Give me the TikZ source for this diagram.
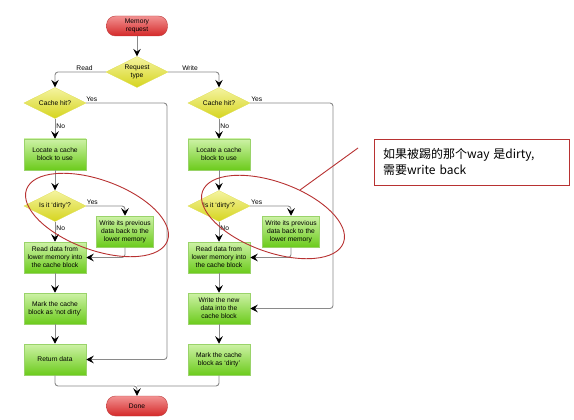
\documentclass[tikz,border=0pt]{standalone}
\usepackage{fontspec}
\setmainfont{Liberation Sans}
\newfontfamily\cjk{Noto Sans CJK SC}
\usetikzlibrary{arrows.meta,shapes.geometric}
\definecolor{boxtop}{HTML}{CDF2A6}
\definecolor{boxbot}{HTML}{6CCB1C}
\definecolor{boxline}{HTML}{9AD36A}
\definecolor{dtop}{HTML}{F4F4A0}
\definecolor{dbot}{HTML}{D6D41E}
\definecolor{ttop}{HTML}{F29292}
\definecolor{tbot}{HTML}{D42828}
\definecolor{tline}{HTML}{C04040}
\definecolor{flow}{HTML}{8A8A8A}
\definecolor{ellred}{HTML}{B83232}
\begin{document}
\begin{tikzpicture}[x=1pt,y=-1pt,
  every node/.style={font=\fontsize{6.7}{8}\selectfont, align=center},
  procbox/.style={rectangle, draw=boxline, line width=0.5pt, top color=boxtop, bottom color=boxbot, minimum width=62pt, minimum height=31pt, inner sep=1pt},
  widebox/.style={procbox, minimum width=57pt},
  decide/.style={diamond, shape aspect=2, top color=dtop, bottom color=dbot, draw=dbot!80!white, line width=0.3pt, minimum width=62pt, minimum height=31pt, inner sep=0pt},
  term/.style={rectangle, rounded corners=9pt, top color=ttop, bottom color=tbot, draw=tline, line width=0.4pt, minimum width=61pt, minimum height=20pt, inner sep=1pt},
  flowline/.style={draw=flow, line width=0.9pt, rounded corners=3pt},
  arr/.style={flowline, -{Stealth[length=7.5pt,width=7.5pt,inset=2.8pt,black]}},
  lbl/.style={inner sep=1pt},
  ring/.style={ellipse, draw=ellred, line width=0.9pt, minimum width=150pt, minimum height=70pt, rotate=-20}
]
\useasboundingbox[fill=white] (0,0) rectangle (574,420);

% terminals and decisions
\node[term] (mem) at (137,26) {Memory\\request};
\node[decide] (req) at (137,72) {Request\\type};
\node[decide] (lhit) at (55,103) {Cache hit?};
\node[decide] (rhit) at (219,103) {Cache hit?};

% left column
\node[procbox] (lloc) at (55,154.5) {Locate a cache\\block to use};
\node[decide] (ldirty) at (55,206) {Is it `dirty'?};
\node[widebox] (lwb) at (125,231.5) {Write its previous\\data back to the\\lower memory};
\node[procbox] (lread) at (55,257.5) {Read data from\\lower memory into\\the cache block};
\node[procbox] (lmark) at (55,308.5) {Mark the cache\\block as `not dirty'};
\node[procbox] (lret) at (55,359.5) {Return data};

% right column
\node[procbox] (rloc) at (219,154.5) {Locate a cache\\block to use};
\node[decide] (rdirty) at (219,206) {Is it `dirty'?};
\node[widebox] (rwb) at (291,231.5) {Write its previous\\data back to the\\lower memory};
\node[procbox] (rread) at (219,257.5) {Read data from\\lower memory into\\the cache block};
\node[procbox] (rwn) at (219,308.5) {Write the new\\data into the\\cache block};
\node[procbox] (rmark) at (219,359.5) {Mark the cache\\block as `dirty'};

\node[term] (done) at (137,406) {Done};

% connectors
\draw[arr] (mem) -- (req);
\draw[arr] (req.west) -| node[lbl, pos=0.21, above] {Read} (lhit.north);
\draw[arr] (req.east) -| node[lbl, pos=0.215, above] {Write} (rhit.north);

\draw[arr] (lhit) -- node[lbl, right, pos=0.4] {No} (lloc);
\draw[arr] (lhit.east) -- node[lbl, above, pos=0.07] {Yes} (167,103) |- (lret.east);
\draw[arr] (lloc) -- (ldirty);
\draw[arr] (ldirty.east) -| node[lbl, above, pos=0.08] {Yes} (lwb.north);
\draw[arr] (ldirty) -- node[lbl, right, pos=0.35] {No} (lread);
\draw[arr] (lwb.south) |- (lread.east);
\draw[arr] (lread) -- (lmark);
\draw[arr] (lmark) -- (lret);
\draw[arr] (lret.south) |- (137,386) -- (done.north);

\draw[arr] (rhit) -- node[lbl, right, pos=0.4] {No} (rloc);
\draw[arr] (rhit.east) -- node[lbl, above, pos=0.08] {Yes} (333,103) |- (rwn.east);
\draw[arr] (rloc) -- (rdirty);
\draw[arr] (rdirty.east) -| node[lbl, above, pos=0.08] {Yes} (rwb.north);
\draw[arr] (rdirty) -- node[lbl, right, pos=0.35] {No} (rread);
\draw[arr] (rwb.south) |- (rread.east);
\draw[arr] (rread) -- (rwn);
\draw[arr] (rwn) -- (rmark);
\draw[flowline] (rmark.south) |- (137,386);

% annotation
\node[ring] (lell) at (97,215) {};
\node[ring] (rell) at (273,217) {};
\node[draw=ellred, line width=0.8pt, minimum width=195pt, minimum height=46pt, text width=177pt, align=left, inner sep=0pt,
      font=\cjk\fontsize{12}{16}\selectfont] (note) at (471.5,162) {如果被踢的那个way 是dirty,\\需要write back};
\coordinate (ptr) at (358,148);
\draw[draw=ellred, line width=0.9pt] (rell.65) -- (ptr);
\end{tikzpicture}
\end{document}
